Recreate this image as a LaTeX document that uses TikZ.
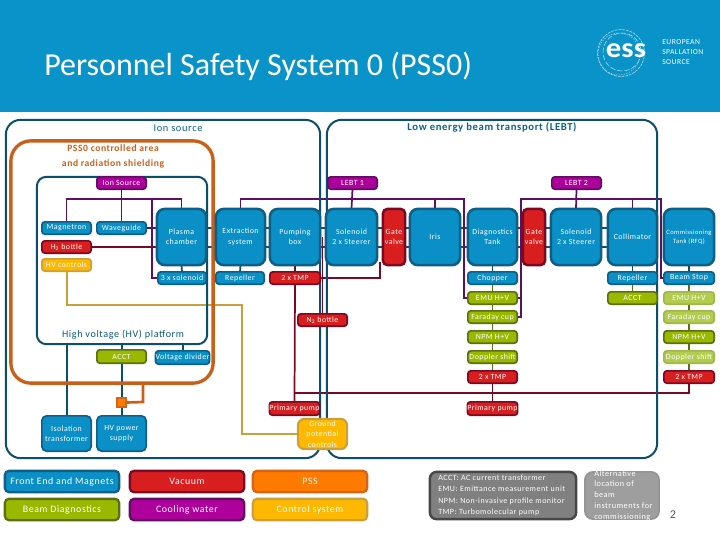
\documentclass[tikz,border=0pt]{standalone}
\usepackage{fontspec}
\setmainfont{Carlito}
\newfontfamily\nf{Carlito}[LetterSpace=6]
\usetikzlibrary{backgrounds}
\definecolor{banner}{HTML}{0A93C9}
\definecolor{teal}{HTML}{0B4F6C}
\definecolor{bfill}{HTML}{0A8FC6}
\definecolor{bline}{HTML}{0F5F85}
\definecolor{rfill}{HTML}{D81E1E}
\definecolor{rline}{HTML}{7A0A24}
\definecolor{pfill}{HTML}{AE009A}
\definecolor{pline}{HTML}{5E0F62}
\definecolor{gfill}{HTML}{9AB800}
\definecolor{gline}{HTML}{5A7012}
\definecolor{lgfill}{HTML}{B2CC50}
\definecolor{yfill}{HTML}{FFB800}
\definecolor{yline}{HTML}{C9A03A}
\definecolor{ofill}{HTML}{FF7A00}
\definecolor{oline}{HTML}{C8601A}
\tikzset{
  x=0.75pt,y=-0.75pt,
  box/.style={draw,rounded corners=2.2pt,line width=1.3pt,inner sep=0pt,outer sep=0pt,align=center,text=white,font=\nf\fontsize{5.9}{7.8}\selectfont},
  nblue/.style={box,fill=bfill,draw=bline},
  big/.style={nblue,line width=1.9pt,rounded corners=6pt},
  nred/.style={box,fill=rfill,draw=rline},
  npurple/.style={box,fill=pfill,draw=pline},
  ngreen/.style={box,fill=gfill,draw=gline},
  lgreen/.style={box,fill=lgfill,draw=lgfill!90!black},
  nyellow/.style={box,fill=yfill,draw=yline},
  norange/.style={box,fill=ofill,draw=oline!80!ofill},
  legend/.style={font=\nf\fontsize{7.4}{9}\selectfont,rounded corners=3pt,line width=1.7pt},
  cont/.style={draw=teal,line width=1.5pt,inner sep=0pt,outer sep=0pt,rounded corners=11pt},
  tl/.style={line width=1.5pt,draw=teal},
  bl/.style={line width=1.3pt,draw=teal},
  pl/.style={line width=1.3pt,draw=pline},
  rl/.style={line width=1.3pt,draw=rline},
  gl/.style={line width=1.3pt,draw=gline},
  yl/.style={line width=1.5pt,draw=yline},
  ol/.style={line width=2pt,draw=oline},
  lab/.style={inner sep=0pt,text=teal,font=\nf\fontsize{7.6}{9}\selectfont},
  logotxt/.style={anchor=west,inner sep=0pt,text=white,font=\nf\fontsize{5.7}{5.7}\selectfont},
}
\newcommand{\pbox}[7]{%
  \pgfmathsetmacro{\cxx}{(#3+#5)/2}\pgfmathsetmacro{\cyy}{(#4+#6)/2}%
  \pgfmathsetmacro{\bwd}{(#5-#3)*0.75-1.3}\pgfmathsetmacro{\bht}{(#6-#4)*0.75-1.3}%
  \node[#2,minimum width=\bwd pt,minimum height=\bht pt] (#1) at (\cxx,\cyy) {#7};}
\begin{document}
\begin{tikzpicture}
\useasboundingbox (0,0) rectangle (720,540);
\begin{scope}[on background layer]
\fill[white] (0,0) rectangle (720,540);
\end{scope}
\fill[banner] (0,0) rectangle (720,112);
\node[anchor=base west,inner sep=0pt,text=white,font=\fontsize{24}{27}\selectfont] (title) at (44,75) {Personnel Safety System 0 (PSS0)};
% logo
\draw[white!70!banner,line width=.45pt,dash pattern=on 2pt off .8pt] (621,53) circle[radius=23.5];
\draw[white!70!banner,line width=.4pt,dash pattern=on 4pt off 1.5pt] (622,52) circle[radius=19];
\draw[white!60!banner,line width=.4pt,dash pattern=on 1pt off 1pt] (619,54) circle[radius=21];
\node[text=white,inner sep=0pt,xscale=1.1,font=\bfseries\fontsize{21}{21}\selectfont] (esslogo) at (626,51) {ess};
\node[logotxt] (essa) at (662,42) {EUROPEAN};
\node[logotxt] (essb) at (662,52) {SPALLATION};
\node[logotxt] (essc) at (662,62) {SOURCE};
% containers
\pbox{ionbox}{cont}{5}{119}{321}{459}{}
\pbox{lebtbox}{cont}{326}{119}{658}{459}{}
\pbox{pssbox}{cont,draw=oline,line width=2.5pt,rounded corners=15pt}{10}{140}{214}{384}{}
\pbox{hvbox}{cont,rounded corners=7pt}{36}{176}{208}{345}{}
% labels
\node[lab,text=teal!70!banner,font=\nf\fontsize{7.8}{9}\selectfont] (ionlab) at (178,128) {Ion source};
\node[lab,font=\nf\bfseries\fontsize{8}{9}\selectfont,text=teal!70!banner] (lebtlab) at (492,127) {Low energy beam transport (LEBT)};
\node[lab,text=oline,align=center,font=\nf\bfseries\fontsize{7.2}{10.6}\selectfont] (psslab) at (113,156.5) {PSS0 controlled area\\and radiation shielding};
\node[lab,text=teal!80!banner] (hvlab) at (123,335) {High voltage (HV) platform};
% nodes
\pbox{ionsrc}{npurple}{96}{176}{147}{190}{Ion Source}
\pbox{magnet}{nblue}{41}{221}{92}{235}{Magnetron}
\pbox{wave}{nblue}{96}{221}{147}{235}{Waveguide}
\pbox{htwo}{nred}{41}{240}{92}{254}{H\textsubscript{2} bottle}
\pbox{hvc}{nyellow}{41}{258}{92}{272}{HV controls}
\pbox{plasma}{big}{156}{208}{207}{266}{Plasma\\chamber}
\pbox{sol3}{nblue}{157}{271}{207}{285}{3 x solenoid}
\pbox{extr}{big}{215}{208}{266}{266}{Extraction\\system}
\pbox{rep1}{nblue}{215}{271}{265}{285}{Repeller}
\pbox{pump}{big}{269}{208}{321}{266}{Pumping\\box}
\pbox{tmpa}{nred}{269}{271}{321}{285}{2 x TMP}
\pbox{lebta}{npurple}{327}{176}{378}{190}{LEBT 1}
\pbox{sola}{big}{325}{208}{378}{266}{Solenoid\\2 x Steerer}
\pbox{gatea}{nred,line width=1.9pt,rounded corners=3.5pt}{382}{208}{406}{266}{Gate\\valve}
\pbox{iris}{big}{409}{208}{461}{266}{Iris}
\pbox{diag}{big}{467}{208}{518}{266}{Diagnostics\\Tank}
\pbox{gateb}{nred,line width=1.9pt,rounded corners=3.5pt}{522}{208}{546}{266}{Gate\\valve}
\pbox{solb}{big}{550}{208}{602}{266}{Solenoid\\2 x Steerer}
\pbox{coll}{big}{607}{208}{658}{266}{Collimator}
\pbox{comm}{big,font=\nf\fontsize{4.9}{6.6}\selectfont}{663}{208}{715}{266}{Commissioning\\Tank (RFQ)}
\pbox{lebtb}{npurple}{551}{176}{602}{190}{LEBT 2}
\pbox{chop}{nblue}{467}{271}{518}{285}{Chopper}
\pbox{rep2}{nblue}{607}{271}{658}{285}{Repeller}
\pbox{stop}{nblue}{663}{271}{715}{285}{Beam Stop}
\pbox{emua}{ngreen}{467}{291}{518}{305}{EMU H+V}
\pbox{accta}{ngreen}{607}{291}{658}{305}{ACCT}
\pbox{emub}{lgreen}{663}{291}{715}{305}{EMU H+V}
\pbox{fara}{ngreen}{467}{310}{518}{324}{Faraday cup}
\pbox{farb}{lgreen}{663}{310}{715}{324}{Faraday cup}
\pbox{npma}{ngreen}{467}{330}{518}{344}{NPM H+V}
\pbox{npmb}{ngreen}{663}{330}{715}{344}{NPM H+V}
\pbox{dopa}{ngreen}{467}{350}{518}{364}{Doppler shift}
\pbox{dopb}{lgreen}{663}{350}{715}{364}{Doppler shift}
\pbox{tmpb}{nred}{467}{370}{518}{384}{2 x TMP}
\pbox{tmpc}{nred}{663}{370}{715}{384}{2 x TMP}
\pbox{prib}{nred}{467}{401}{518}{416}{Primary pump}
\pbox{pria}{nred}{269}{401}{320}{416}{Primary pump}
\pbox{ntwo}{nred}{297}{313}{348}{327}{N\textsubscript{2} bottle}
\pbox{ground}{nyellow,line width=1.6pt,rounded corners=5pt}{297}{418}{348}{450}{Ground\\potential\\controls}
\pbox{acctb}{ngreen}{96}{349}{147}{364}{ACCT}
\pbox{vdiv}{nblue}{157}{350}{208}{365}{Voltage divider}
\pbox{iso}{nblue,rounded corners=3.5pt}{41}{415}{92}{452}{Isolation\\transformer}
\pbox{hvps}{nblue,rounded corners=3.5pt}{96}{415}{147}{452}{HV power\\supply}
\pbox{psq}{norange,line width=1.2pt,rounded corners=0pt}{116}{397}{127}{408}{}
% legend
\pbox{lfe}{nblue,legend}{4}{470}{120}{493}{Front End and Magnets}
\pbox{lbd}{ngreen,legend}{4}{498}{120}{521}{Beam Diagnostics}
\pbox{lvac}{nred,legend}{129}{470}{245}{493}{Vacuum}
\pbox{lcool}{npurple,legend}{129}{498}{245}{521}{Cooling water}
\pbox{lpss}{norange,legend}{252}{470}{368}{493}{PSS}
\pbox{lctl}{nyellow,legend}{252}{498}{368}{521}{Control system}
\pbox{gdark}{box,fill=black!50,draw=black!72,line width=1.8pt,rounded corners=5pt}{429}{471}{577}{520}{}
\pbox{glight}{box,fill=black!38,draw=black!42,line width=1.2pt,rounded corners=6pt}{584}{471}{660}{520}{}
\node[anchor=west,inner sep=0pt,align=left,text=white,font=\nf\fontsize{6}{8.6}\selectfont] (gtext) at (438,495.5) {ACCT: AC current transformer\\EMU: Emittance measurement unit\\NPM: Non-invasive profile monitor\\TMP: Turbomolecular pump};
\node[anchor=north west,inner sep=0pt,align=left,text=white,font=\nf\fontsize{6.2}{8.2}\selectfont] (ltext) at (594,470) {Alternative\\location of\\beam\\instruments for\\commissioning};
\node[text=black!65,inner sep=0pt,font=\fontsize{9}{9}\selectfont] (pageno) at (673,515) {2};
% connector helpers
\coordinate (busy) at (0,199);
\coordinate (ra) at (0,228);
\coordinate (rb) at (0,247);
\coordinate (cp) at (152,199);
\coordinate (cm) at (464,199);
\coordinate (cn) at (521,199);
\coordinate (cq) at (661,199);
\coordinate (cb) at (0,393);
\coordinate (cy) at (242,305);
\coordinate (cg) at (380,262);
\coordinate (cv) at (322.5,237);
\coordinate (co) at (143,402);
\begin{scope}[on background layer]
% ion source bus
\draw[pl] (magnet.north) |- (plasma.north |- busy) -- (plasma.north);
\draw[pl] (ionsrc.south) -- (wave.north);
\draw[pl] (cp) |- (sol3.west);
\draw[pl] (wave.east) -- (plasma.west |- wave);
\draw[rl] (htwo.east) -- (plasma.west |- htwo);
% beam line links
\foreach \a/\b in {plasma/extr,extr/pump,pump/sola,sola/gatea,gatea/iris,iris/diag,diag/gateb,gateb/solb,solb/coll}{
  \draw[bl] (\a.east |- ra) -- (\b.west |- ra);
  \draw[bl] (\a.east |- rb) -- (\b.west |- rb);
}
\draw[bl] (plasma.south) -- (sol3.north);
\draw[bl] (extr.south) -- (rep1.north);
\draw[rl] (pump.south) -- (tmpa.north);
% LEBT 1
\draw[pl] (extr.north) |- (cm) |- (emua.west);
\draw[pl] (lebta.south) -- (sola.north);
\draw[pl] (iris.north) -- (iris.north |- busy);
% LEBT 2
\draw[pl] (fara.east) -| (cn) -- (cq) |- (stop.west);
\draw[pl] (emua.east) -- (cn |- emua);
\draw[pl] (lebtb.south) -- (solb.north);
\draw[pl] (coll.north) -- (coll.north |- busy);
% chains
\draw[bl] (diag.south) -- (chop.north);
\draw[gl] (chop.south) -- (emua.north);
\draw[gl] (emua.south) -- (fara.north);
\draw[gl] (fara.south) -- (npma.north);
\draw[gl] (npma.south) -- (dopa.north);
\draw[gl] (dopa.south) -- (tmpb.north);
\draw[rl] (tmpb.south) -- (prib.north);
\draw[bl] (coll.south) -- (rep2.north);
\draw[gl] (rep2.south) -- (accta.north);
\draw[bl] (comm.south) -- (stop.north);
\draw[gl] (stop.south) -- (emub.north);
\draw[gl] (emub.south) -- (farb.north);
\draw[gl] (farb.south) -- (npmb.north);
\draw[gl] (npmb.south) -- (dopb.north);
\draw[gl] (dopb.south) -- (tmpc.north);
% vacuum
\draw[rl] (tmpa.south) -- (pria.north);
\draw[rl] (pria.north |- cb) -- (tmpc.south |- cb) -- (tmpc.south);
\draw[rl] (tmpa.east) -| (cg);
\draw[rl] (cv) -- (cv |- ntwo.north);
% HV
\draw[yl] (hvc.south) |- (cy) |- (ground.west);
\draw[tl] (iso.north) -- (iso.north |- hvbox.south);
\draw[tl] (hvps.north) -- (acctb.south);
\draw[tl] (acctb.north) -- (acctb.north |- hvbox.south);
\draw[tl] (vdiv.north) -- (vdiv.north |- hvbox.south);
\draw[ol] (psq.east) -- (co) -- (co |- pssbox.south);
\end{scope}
\end{tikzpicture}
\end{document}
